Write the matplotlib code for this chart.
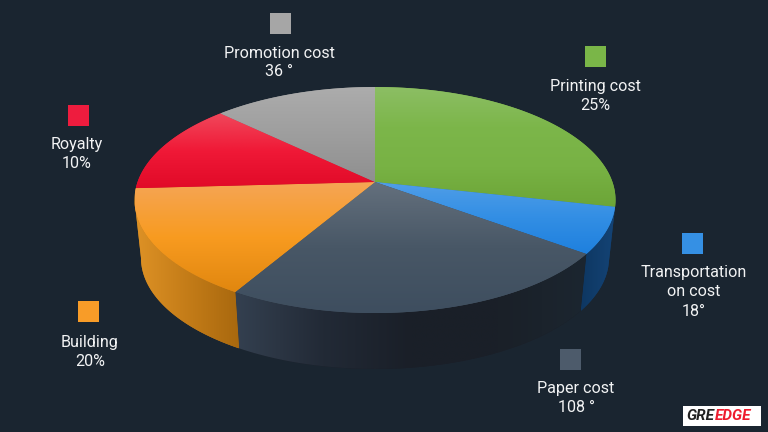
import numpy as np
import matplotlib
matplotlib.use("Agg")
import matplotlib.pyplot as plt
from matplotlib.patches import Polygon, Rectangle

# ---- data -------------------------------------------------------------
categories = ["Printing cost", "Transportation\non cost", "Paper cost",
              "Building", "Royalty", "Promotion cost"]
value_labels = ["25%", "18°", "108 °", "20%", "10%", "36 °"]
# Sweep of each slice as it is actually drawn in the picture (degrees of the ellipse)
drawn_sweeps = [93.5, 25, 97, 60.5, 44, 40]

# ---- styles -----------------------------------------------------------
BG = "#1a2530"
top_stops = [
    [(140, 190, 100), (124, 182, 74), (120, 178, 68), (108, 165, 55)],
    [(80, 158, 232), (50, 142, 228), (30, 128, 222)],
    [(100, 112, 125), (72, 87, 102), (62, 78, 95)],
    [(245, 165, 85), (248, 155, 32), (225, 135, 15)],
    [(240, 72, 92), (240, 25, 55), (225, 10, 40)],
    [(172, 172, 172), (158, 158, 158), (143, 143, 143)],
]
wall_stops = {
    1: [(14, 55, 98), (20, 68, 118)],
    2: [(52, 64, 80), (34, 42, 54), (26, 31, 40), (26, 32, 40), (28, 38, 48)],
    3: [(222, 146, 38), (196, 124, 24), (168, 104, 14)],
}
swatch_colors = ["#7ab648", "#3590e4", "#4d5b6b", "#f89c28", "#ee1c3e", "#a6a6a6"]
swatch_xy = [(585, 46), (682, 233), (560, 349), (78, 301), (68, 105), (270, 13)]
text_xy = [(595, 86), (694, 273), (576, 389), (90, 342), (77, 145), (279, 53)]

APEX = (375, 182)
TOP = dict(cx=375, cy=200, rx=240.5, ry=113)
BOT = dict(cx=375, cy=258, rx=234, ry=111)
START = 90.0
LINE_H = 19


def rim(e, t):
    t = np.radians(t)
    return np.column_stack([e["cx"] + e["rx"] * np.cos(t), e["cy"] - e["ry"] * np.sin(t)])


def ramp(stops, n=256):
    s = np.array(stops, float) / 255
    pos = np.linspace(0, 1, len(s))
    q = np.linspace(0, 1, n)
    return np.column_stack([np.interp(q, pos, s[:, i]) for i in range(3)])


def fill_gradient(ax, verts, stops, vertical=True, z=2):
    verts = np.asarray(verts)
    x0, y0 = verts.min(0)
    x1, y1 = verts.max(0)
    g = ramp(stops)
    img = g[:, None, :] if vertical else g[None, :, :]
    solid = tuple(g[len(g) // 2])
    patch = Polygon(verts, closed=True, fc=solid, ec="none", lw=0, zorder=z)
    ax.add_patch(patch)
    im = ax.imshow(img, extent=(x0, x1, y1, y0), aspect="auto", origin="upper",
                   zorder=z + 0.1, interpolation="bilinear")
    im.set_clip_path(patch)


fig = plt.figure(figsize=(7.68, 4.32), dpi=100, facecolor=BG)
ax = fig.add_axes([0, 0, 1, 1])
ax.set_facecolor(BG)

edges = START - np.concatenate([[0], np.cumsum(drawn_sweeps)])

# side walls (only the slices whose rim faces the viewer)
for i, stops in wall_stops.items():
    t0 = edges[i]
    t1 = max(edges[i + 1], -180.0)
    t = np.linspace(t0, t1, 120)
    verts = np.vstack([rim(TOP, t), rim(BOT, t[::-1])])
    fill_gradient(ax, verts, stops, vertical=False, z=2)

# top faces
for i, stops in enumerate(top_stops):
    t = np.linspace(edges[i], edges[i + 1], 160)
    verts = np.vstack([[APEX], rim(TOP, t)])
    fill_gradient(ax, verts, stops, vertical=True, z=3)

# legend swatches and labels
for cat, val, col, (sx, sy), (tx, ty) in zip(categories, value_labels, swatch_colors, swatch_xy, text_xy):
    ax.add_patch(Rectangle((sx, sy), 21, 21, fc=col, ec="none", zorder=4))
    lines = cat.split("\n") + [val]
    for k, line in enumerate(lines):
        ax.text(tx, ty + k * LINE_H, line, color="#f2f3f4", ha="center", va="center",
                family="Roboto", fontsize=11.6, zorder=5)

# logo
ax.add_patch(Rectangle((683, 406), 78, 20, fc="white", ec="none", zorder=4))
ax.text(686.5, 416.5, "GRE", color="#222222", ha="left", va="center", family="Roboto",
        fontsize=11, fontweight="bold", fontstyle="italic", zorder=5)
ax.text(714.5, 416.5, "EDGE", color="#ee1c2e", ha="left", va="center", family="Roboto",
        fontsize=11, fontweight="bold", fontstyle="italic", zorder=5)

ax.set_xlim(0, 768)
ax.set_ylim(432, 0)
ax.set_axis_off()
fig.savefig("out.png", dpi=100, facecolor=BG)
